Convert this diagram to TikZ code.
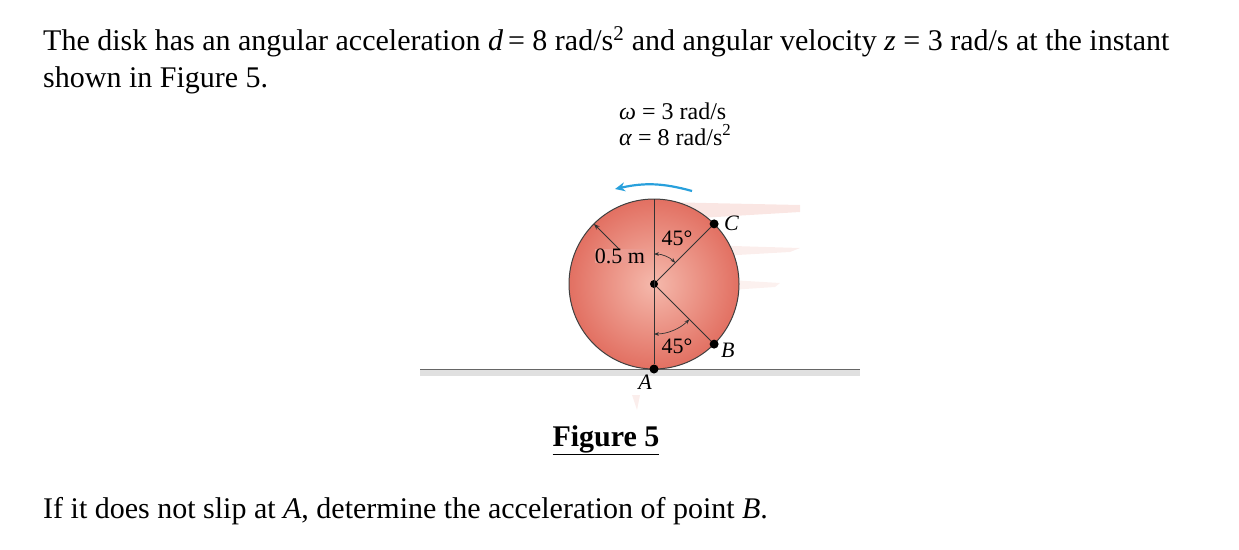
\documentclass[tikz,border=0pt]{standalone}
\usepackage{fontspec}
\setmainfont{Liberation Serif}
\usetikzlibrary{arrows.meta,calc}
\definecolor{diskred}{RGB}{226,112,98}
\definecolor{disklight}{RGB}{245,185,172}
\definecolor{arrowblue}{RGB}{40,160,220}
\tikzset{
  body/.style={font=\fontsize{30}{34}\selectfont, anchor=base west, inner sep=0pt},
  lab/.style={font=\fontsize{22}{24}\selectfont, inner sep=1pt},
  dot/.style={circle, fill=black, inner sep=0pt, minimum size=9pt},
  line/.style={draw=black!80, line width=1pt}
}
\begin{document}
\begin{tikzpicture}[x=1pt,y=-1pt]
\useasboundingbox (0,0) rectangle (1239,549);
\node[body] (t1) at (43,50) {The disk has an angular acceleration \textit{d}\,= 8 rad/s\textsuperscript{2} and angular velocity \textit{z} = 3 rad/s at the instant};
\node[body] (t2) at (43,87) {shown in Figure 5.};
\node[body] (t3) at (43,518) {If it does not slip at \textit{A}, determine the acceleration of point \textit{B}.};
\node[body, anchor=base] (fig) at (606,446) {\textbf{\underline{Figure 5}}};
\node[lab, anchor=base west, font=\fontsize{24}{26}\selectfont] (w) at (618,119) {\textit{ω} = 3 rad/s};
\node[lab, anchor=base west, font=\fontsize{24}{26}\selectfont] (a) at (618,145) {\textit{α} = 8 rad/s\textsuperscript{2}};
% motion streaks
\fill[diskred!35, opacity=0.5] (660,202) -- (800,205) -- (800,212) -- (700,218) -- cycle;
\fill[diskred!30, opacity=0.4] (700,245) -- (800,248) -- (790,252) -- (720,256) -- cycle;
\fill[diskred!25, opacity=0.4] (730,280) -- (780,283) -- (775,287) -- (730,290) -- cycle;
\fill[diskred!30, opacity=0.4] (632,395) -- (640,395) -- (637,410) -- cycle;
% ground
\fill[black!12] (420,370) rectangle (860,376);
\draw[black!60, line width=1pt] (420,369) -- (860,369);
% disk
\coordinate (O) at (654,284);
\shade[inner color=disklight, outer color=diskred] (O) circle (85);
\draw[black!75, line width=1pt] (O) circle (85);
\coordinate (Ctop) at (654,199);
\coordinate (Rl) at ($(O)+(225:85)$);
\node[dot] (A) at (654,369) {};
\node[dot] (C) at ($(O)+(-45:85)$) {};
\node[dot] (B) at ($(O)+(45:85)$) {};
\node[dot, minimum size=8pt] (Oc) at (O) {};
\draw[line] (Ctop) -- (A);
\draw[line] (Oc) -- (C);
\draw[line] (Oc) -- (B);
\draw[line, -{Stealth[length=6pt]}] ($(O)!0.45!(Rl)$) -- (Rl);
\node[lab, fill=diskred!70, inner sep=0pt] (r) at (620,256) {0.5 m};
\draw[line, line width=0.7pt, {Stealth[length=5pt]}-{Stealth[length=5pt]}] ($(O)+(-90:30)$) arc[start angle=-90, end angle=-45, radius=30];
\draw[line, line width=0.7pt, {Stealth[length=5pt]}-{Stealth[length=5pt]}] ($(O)+(90:50)$) arc[start angle=90, end angle=45, radius=50];
\node[lab] (g1) at (677,238) {45°};
\node[lab] (g2) at (677,346) {45°};
\node[lab, anchor=west] (lC) at (723,223) {\textit{C}};
\node[lab, anchor=west] (lB) at (720,350) {\textit{B}};
\node[lab] (lA) at (645,382) {\textit{A}};
\draw[arrowblue, line width=2.2pt, -{Stealth[length=10pt,width=9pt]}] (692,191) to[bend right=14] (615,189);
\end{tikzpicture}
\end{document}
